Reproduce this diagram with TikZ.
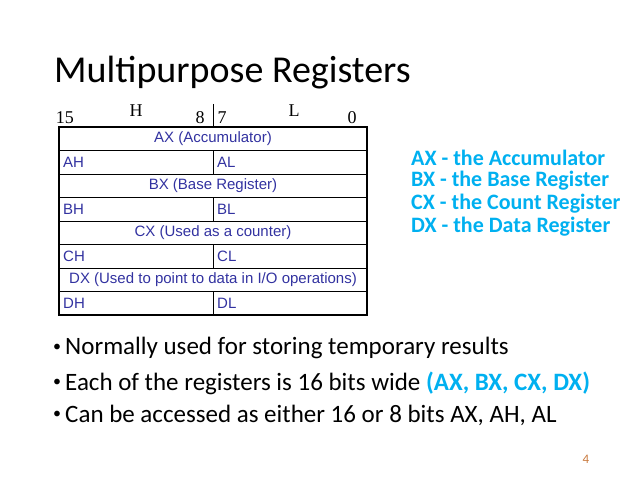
\documentclass[tikz,border=0pt]{standalone}
\usepackage{fontspec}
\setmainfont{Carlito}
\newfontfamily\arialf{Liberation Sans}
\newfontfamily\timesf{Liberation Serif}
\definecolor{sky}{RGB}{0,176,240}
\definecolor{tblue}{RGB}{50,50,160}
\definecolor{pnum}{RGB}{200,120,60}
\begin{document}
\begin{tikzpicture}[x=1pt,y=-1pt,
  cell/.style={font=\arialf\fontsize{15}{16}\selectfont,text=tblue,inner sep=0pt},
  hdr/.style={font=\timesf\fontsize{18}{18}\selectfont,inner sep=0pt},
  side/.style={font=\bfseries\fontsize{22}{24}\selectfont,text=sky,anchor=west,inner sep=0pt},
  bul/.style={font=\fontsize{25}{28}\selectfont,anchor=west,inner sep=0pt},
  dot/.style={font=\fontsize{16}{18}\selectfont,inner sep=0pt}]
\useasboundingbox (0,0) rectangle (638,478);
\node[anchor=west,inner sep=0pt,font=\fontsize{38}{40}\selectfont] (title) at (54,73) {Multipurpose Registers};
% table
\draw[line width=1.3pt] (59,127) rectangle (367,315);
\foreach \i in {1,...,7}{\draw[line width=0.8pt] (59,{127+\i*23.5}) -- (367,{127+\i*23.5});}
\foreach \i in {1,3,5,7}{\draw[line width=0.8pt] (213,{127+\i*23.5}) -- (213,{127+(\i+1)*23.5});}
\draw[line width=0.8pt] (213,104) -- (213,127);
\node[hdr] (h15) at (65,118) {15};
\node[hdr] (hH) at (136,111) {H};
\node[hdr] (h8) at (200,118) {8};
\node[hdr] (h7) at (222,118) {7};
\node[hdr] (hL) at (294,111) {L};
\node[hdr] (h0) at (352,118) {0};
\node[cell] (ax) at (213,139) {AX (Accumulator)};
\node[cell,anchor=west] (ah) at (63,162.5) {AH};
\node[cell,anchor=west] (al) at (217,162.5) {AL};
\node[cell] (bx) at (213,186) {BX (Base Register)};
\node[cell,anchor=west] (bh) at (63,209.5) {BH};
\node[cell,anchor=west] (bl) at (217,209.5) {BL};
\node[cell] (cx) at (213,233) {CX (Used as a counter)};
\node[cell,anchor=west] (ch) at (63,256.5) {CH};
\node[cell,anchor=west] (cl) at (217,256.5) {CL};
\node[cell] (dx) at (213,280) {DX (Used to point to data in I/O operations)};
\node[cell,anchor=west] (dh) at (63,303.5) {DH};
\node[cell,anchor=west] (dl) at (217,303.5) {DL};
% side text
\node[side] (s1) at (411,158) {AX - the Accumulator};
\node[side] (s2) at (411,181) {BX - the Base Register};
\node[side] (s3) at (411,204) {CX - the Count Register};
\node[side] (s4) at (411,227) {DX - the Data Register};
% bullets
\node[dot] (d1) at (57,348) {•};
\node[dot] (d2) at (57,383) {•};
\node[dot] (d3) at (57,415) {•};
\node[bul] (b1) at (65,348) {Normally used for storing temporary results};
\node[bul] (b2) at (65,383) {Each of the registers is 16 bits wide \textcolor{sky}{\bfseries(AX, BX, CX, DX)}};
\node[bul] (b3) at (65,415) {Can be accessed as either 16 or 8 bits AX, AH, AL};
\node[font=\fontsize{13}{14}\selectfont,text=pnum,inner sep=0pt] (pg) at (586,459) {4};
\end{tikzpicture}
\end{document}
